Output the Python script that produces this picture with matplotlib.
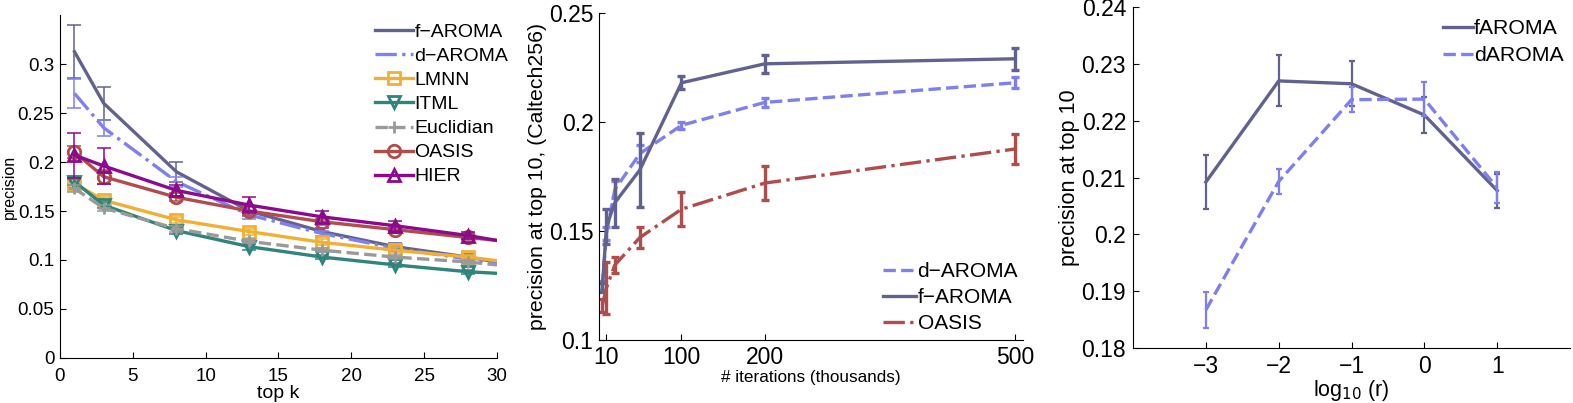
import matplotlib
matplotlib.use('Agg')
import matplotlib.pyplot as plt

plt.rcParams['font.family'] = ['Liberation Sans', 'DejaVu Sans']

# ---- left panel: precision vs top k ----
top_k = [1, 3, 8, 13, 18, 23, 28, 30]

f_aroma = [0.3125, 0.260, 0.190, 0.150, 0.129, 0.1136, 0.103, 0.098]
f_aroma_err = [0.027, 0.017, 0.010, 0.005, 0.004, 0.004, 0.003, 0]
d_aroma = [0.270, 0.235, 0.180, 0.146, 0.127, 0.112, 0.101, 0.097]
d_aroma_err = [0.015, 0.008, 0.005, 0.004, 0.003, 0.003, 0.003, 0]
lmnn = [0.178, 0.161, 0.141, 0.129, 0.118, 0.110, 0.103, 0.0993]
lmnn_err = [0.003, 0.003, 0.003, 0.003, 0.003, 0.003, 0.002, 0]
itml = [0.180, 0.156, 0.130, 0.1136, 0.103, 0.095, 0.088, 0.0864]
itml_err = [0.003, 0.003, 0.003, 0.003, 0.002, 0.002, 0.002, 0]
euclid = [0.173, 0.153, 0.132, 0.119, 0.110, 0.103, 0.098, 0.095]
euclid_err = [0.004, 0.003, 0.003, 0.002, 0.002, 0.002, 0.002, 0]
oasis = [0.210, 0.185, 0.164, 0.150, 0.139, 0.131, 0.123, 0.120]
oasis_err = [0.006, 0.007, 0.004, 0.004, 0.003, 0.003, 0.003, 0]
hier = [0.207, 0.196, 0.171, 0.156, 0.144, 0.135, 0.125, 0.120]
hier_err = [0.023, 0.018, 0.006, 0.008, 0.006, 0.005, 0.004, 0]

# ---- middle panel: precision vs iterations ----
iters = [5, 10, 20, 50, 100, 200, 500]
it_d_aroma = [0.125, 0.149, 0.169, 0.1855, 0.1985, 0.209, 0.218]
it_d_aroma_err = [0.002, 0.003, 0.004, 0.004, 0.0015, 0.002, 0.0025]
it_f_aroma = [0.124, 0.152, 0.163, 0.178, 0.218, 0.2267, 0.229]
it_f_aroma_err = [0.002, 0.008, 0.011, 0.017, 0.003, 0.004, 0.005]
it_oasis = [0.116, 0.124, 0.1344, 0.147, 0.160, 0.172, 0.1876]
it_oasis_err = [0.003, 0.012, 0.0035, 0.005, 0.0077, 0.008, 0.007]

# ---- right panel: precision vs log10(r) ----
log_r = [-3, -2, -1, 0, 1]
r_f_aroma = [0.2092, 0.2270, 0.2265, 0.2210, 0.2077]
r_f_aroma_err = [0.0048, 0.0045, 0.0040, 0.0032, 0.0030]
r_d_aroma = [0.1867, 0.2093, 0.2237, 0.2238, 0.2082]
r_d_aroma_err = [0.0032, 0.0022, 0.0022, 0.0030, 0.0027]

C_F = '#62628f'
C_D = '#7f7ff0'
C_LMNN = '#f0b133'
C_ITML = '#2f847c'
C_EUC = '#9a9a9a'
C_OASIS = '#b04c4c'
C_HIER = '#8c0a8c'


def style_axes(ax, tick_size, pad=5):
    for s in ['top', 'right']:
        ax.spines[s].set_visible(False)
    ax.tick_params(direction='in', labelsize=tick_size, length=4, pad=pad)


fig = plt.figure(figsize=(15.73, 4.03), dpi=100)

# left
ax1 = fig.add_axes([0.0381, 0.1117, 0.2778, 0.851])
series = [
    ('f\u2212AROMA', f_aroma, f_aroma_err, C_F, '-', None),
    ('d\u2212AROMA', d_aroma, d_aroma_err, C_D, '-.', None),
    ('LMNN', lmnn, lmnn_err, C_LMNN, '-', 's'),
    ('ITML', itml, itml_err, C_ITML, '-', 'v'),
    ('Euclidian', euclid, euclid_err, C_EUC, '--', '+'),
    ('OASIS', oasis, oasis_err, C_OASIS, '-', 'o'),
    ('HIER', hier, hier_err, C_HIER, '-', '^'),
]
for name, y, err, c, ls, mk in series:
    ax1.errorbar(top_k[:-1], y[:-1], yerr=err[:-1], fmt='none', ecolor=c,
                 elinewidth=1.1, capsize=5, capthick=1.1)
    ax1.plot(top_k, y, color=c, ls=ls, lw=2.4, marker=mk, markevery=slice(0, 7),
             ms=9, mfc='none', mew=2, label=name)
ax1.set_xlim(0, 30)
ax1.set_ylim(0, 0.35)
ax1.set_xticks([0, 5, 10, 15, 20, 25, 30])
ax1.set_yticks([0, 0.05, 0.1, 0.15, 0.2, 0.25, 0.3])
ax1.set_yticklabels(['0', '0.05', '0.1', '0.15', '0.2', '0.25', '0.3'])
style_axes(ax1, 13.5, pad=7)
ax1.tick_params(axis='y', pad=4)
ax1.set_xlabel('top k', fontsize=14, labelpad=0)
ax1.set_ylabel('precision', fontsize=11.5)
ax1.yaxis.set_label_coords(-0.098, 0.5)
ax1.legend(loc='upper left', bbox_to_anchor=(0.72, 0.975), frameon=False,
           fontsize=14, handlelength=2.0, handletextpad=0.05, labelspacing=0.33,
           borderaxespad=0, borderpad=0)

# middle
ax2 = fig.add_axes([0.3808, 0.1563, 0.2696, 0.8114])
mid = [
    ('d\u2212AROMA', it_d_aroma, it_d_aroma_err, C_D, '--'),
    ('f\u2212AROMA', it_f_aroma, it_f_aroma_err, C_F, '-'),
    ('OASIS', it_oasis, it_oasis_err, C_OASIS, '-.'),
]
for name, y, err, c, ls in mid:
    ax2.errorbar(iters, y, yerr=err, fmt='none', ecolor=c, elinewidth=2.4,
                 capsize=3, capthick=2.4)
    ax2.plot(iters, y, color=c, ls=ls, lw=2.4, label=name)
ax2.set_xlim(1, 510)
ax2.set_ylim(0.1, 0.25)
ax2.set_xticks([10, 100, 200, 500])
ax2.set_yticks([0.1, 0.15, 0.2, 0.25])
ax2.set_yticklabels(['0.1', '0.15', '0.2', '0.25'])
style_axes(ax2, 16.5, pad=4)
ax2.set_xlabel('# iterations (thousands)', fontsize=12.3, labelpad=1)
ax2.set_ylabel('precision at top 10, (Caltech256)', fontsize=15.3, labelpad=1)
ax2.legend(loc='lower left', bbox_to_anchor=(0.67, 0.02), frameon=False,
           fontsize=15, handlelength=1.6, handletextpad=0.05, labelspacing=0.34,
           borderaxespad=0, borderpad=0)

# right
ax3 = fig.add_axes([0.7203, 0.1365, 0.2778, 0.846])
ax3.errorbar(log_r, r_f_aroma, yerr=r_f_aroma_err, fmt='none', ecolor=C_F,
             elinewidth=1.6, capsize=2.5, capthick=1.6)
ax3.plot(log_r, r_f_aroma, color=C_F, lw=2.4, label='fAROMA')
ax3.errorbar(log_r, r_d_aroma, yerr=r_d_aroma_err, fmt='none', ecolor=C_D,
             elinewidth=1.6, capsize=2.5, capthick=1.6)
ax3.plot(log_r, r_d_aroma, color=C_D, ls='--', lw=2.4, label='dAROMA')
ax3.set_xlim(-4, 2)
ax3.set_ylim(0.18, 0.24)
ax3.set_xticks(log_r)
ax3.set_yticks([0.18, 0.19, 0.2, 0.21, 0.22, 0.23, 0.24])
ax3.set_yticklabels(['0.18', '0.19', '0.2', '0.21', '0.22', '0.23', '0.24'])
style_axes(ax3, 16.5, pad=5)
ax3.set_xlabel('log$_{10}$ (r)', fontsize=15.5, labelpad=0)
ax3.set_ylabel('precision at top 10', fontsize=15.6, labelpad=1)
ax3.legend(loc='upper left', bbox_to_anchor=(0.71, 0.965), frameon=False,
           fontsize=15.3, handlelength=1.4, handletextpad=0.05, labelspacing=0.4,
           borderaxespad=0, borderpad=0)

fig.savefig('out.png', dpi=100)
